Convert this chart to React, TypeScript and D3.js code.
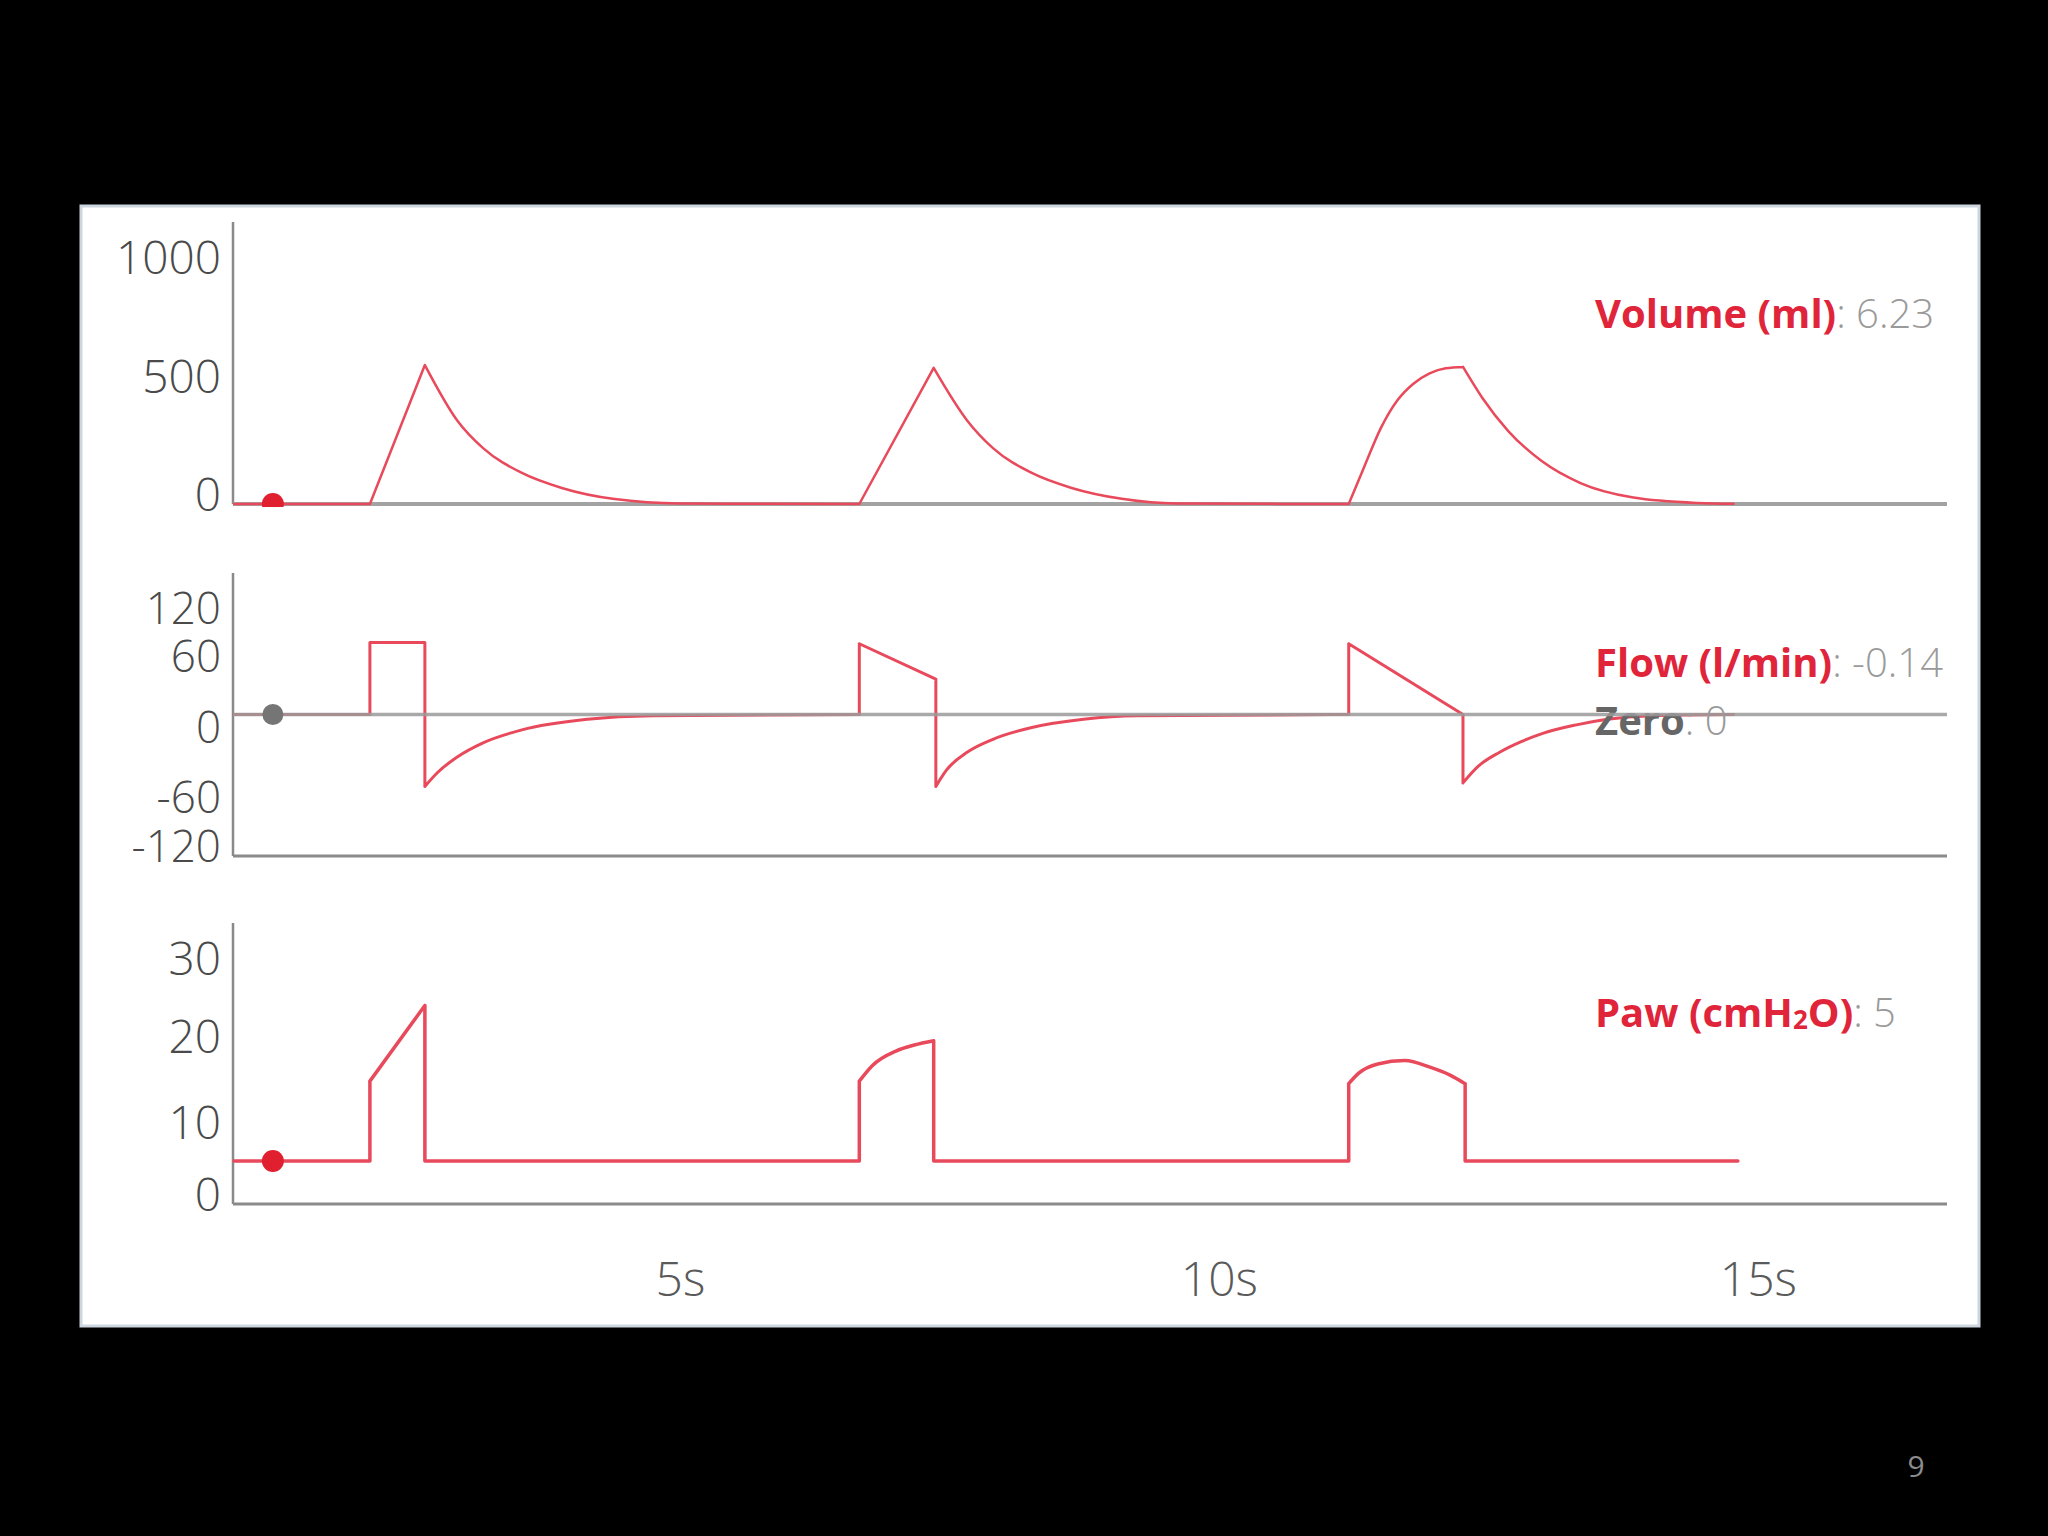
import * as d3 from 'd3';
import type { FC } from 'react';

type Pt = [number, number];

// seconds shown on the time axis
const timeDomain: [number, number] = [0.85, 16.75];
const timeTicks = [5, 10, 15];

// volume (ml), one run per piece between corners
const volumeSegments: Pt[][] = [
	[[0.86, 0], [2.12, 0]],
	[[2.12, 0], [2.63, 537]],
	[[2.63, 537], [2.93, 323], [3.17, 216], [3.53, 120], [3.9, 62], [4.39, 19], [5.0, 2], [6.66, 0]],
	[[6.66, 0], [7.35, 526]],
	[[7.35, 526], [7.66, 323], [7.9, 216], [8.26, 120], [8.63, 62], [9.11, 19], [9.6, 2], [11.2, 0]],
	[[11.2, 0], [11.35, 150], [11.5, 295], [11.65, 400], [11.8, 465], [11.95, 505], [12.1, 525], [12.26, 530]],
	[[12.26, 530], [12.44, 410], [12.68, 282], [12.99, 166], [13.35, 81], [13.84, 25], [14.44, 4], [14.77, 1]],
];

// flow (l/min)
const flowSegments: Pt[][] = [
	[[0.86, 0], [2.12, 0]],
	[[2.12, 0], [2.12, 61]],
	[[2.12, 61], [2.63, 61]],
	[[2.63, 61], [2.63, -61]],
	[[2.63, -61], [2.75, -49], [2.93, -36], [3.17, -24], [3.53, -13], [4.14, -4], [4.75, -1], [6.66, 0]],
	[[6.66, 0], [6.66, 60]],
	[[6.66, 60], [7.37, 30]],
	[[7.37, 30], [7.37, -61]],
	[[7.37, -61], [7.47, -47], [7.66, -32], [7.9, -21], [8.26, -11], [8.74, -4], [9.23, -1], [11.2, 0]],
	[[11.2, 0], [11.2, 60]],
	[[11.2, 60], [12.26, 0]],
	[[12.26, 0], [12.26, -58]],
	[[12.26, -58], [12.4, -44], [12.6, -32], [12.8, -23], [13.0, -16], [13.3, -9], [13.6, -4], [14.0, -1], [14.77, 0]],
];

// airway pressure (cmH2O)
const pawSegments: Pt[][] = [
	[[0.86, 5], [2.12, 5]],
	[[2.12, 5], [2.12, 14.3]],
	[[2.12, 14.3], [2.63, 23.1]],
	[[2.63, 23.1], [2.63, 5]],
	[[2.63, 5], [6.66, 5]],
	[[6.66, 5], [6.66, 14.3]],
	[[6.66, 14.3], [6.78, 16.1], [7.0, 17.8], [7.17, 18.5], [7.35, 19.0]],
	[[7.35, 19.0], [7.35, 5]],
	[[7.35, 5], [11.2, 5]],
	[[11.2, 5], [11.2, 14.0]],
	[[11.2, 14.0], [11.29, 15.2], [11.47, 16.3], [11.72, 16.7], [11.96, 15.9], [12.14, 15.0], [12.28, 14.0]],
	[[12.28, 14.0], [12.28, 5]],
	[[12.28, 5], [14.81, 5]],
];

const volumeTicks = [0, 500, 1000];
const flowTicks = [-120, -60, 0, 60, 120];
const pawTicks = [0, 10, 20, 30];

// cursor position and the current readings
const cursorTime = 1.22;
const readings = { volume: '6.23', flow: '-0.14', zero: '0', paw: '5' };

const W = 2048;
const H = 1536;
const FONT = "'Open Sans', sans-serif";
const RED = '#e0253a';
const TRACE = '#e84a5c';

const plotLeft = 233;
const plotRight = 1947;

const x = d3.scaleLinear().domain(timeDomain).range([plotLeft, plotRight]);

interface PanelProps {
	top: number;
	bottom: number;
	domain: [number, number];
	ticks: number[];
	labelShift: number;
	labelSize: number;
	width: number;
}

const panelScale = (p: { top: number; bottom: number; domain: [number, number] }) =>
	d3.scaleLinear().domain(p.domain).range([p.bottom, p.top]);

const tracePath = (segments: Pt[][], y: d3.ScaleLinear<number, number>) => {
	const line = d3
		.line<Pt>()
		.x((d) => x(d[0]))
		.y((d) => y(d[1]))
		.curve(d3.curveMonotoneX);
	return segments.map((s) => line(s)).join('');
};

const YLabels: FC<{ p: PanelProps }> = ({ p }) => {
	const y = panelScale(p);
	return (
		<g>
			{p.ticks.map((v) => {
				// labels are pushed inside the axis span, as in the original
				const cy = Math.max(p.top + 34, Math.min(p.bottom - 11, y(v) + p.labelShift));
				return (
					<text
						key={v}
						x={221}
						y={cy}
						textAnchor="end"
						dominantBaseline="central"
						fontFamily={FONT}
						fontWeight={300}
						fontSize={p.labelSize}
						fill="#4a4a4a"
					>
						{v}
					</text>
				);
			})}
			<line x1={plotLeft} x2={plotLeft} y1={p.top} y2={p.bottom} stroke="#8a8a8a" strokeWidth={2.5} />
		</g>
	);
};

const volumePanel: PanelProps = { top: 222, bottom: 504, domain: [0, 1090], ticks: volumeTicks, labelShift: 0, labelSize: 46, width: 2.5 };
const flowPanel: PanelProps = { top: 573, bottom: 856, domain: [-120, 120], ticks: flowTicks, labelShift: 11, labelSize: 44, width: 3 };
const pawPanel: PanelProps = { top: 923, bottom: 1204, domain: [0, 32.7], ticks: pawTicks, labelShift: 3, labelSize: 46, width: 3.5 };

const Reading: FC<{ y: number; name: React.ReactNode; value: string; color?: string }> = ({ y, name, value, color = RED }) => (
	<text x={1595} y={y} dominantBaseline="central" fontFamily={FONT} fontSize={40}>
		<tspan fill={color} fontWeight={700}>
			{name}
		</tspan>
		<tspan fill="#9a9a9a" fontWeight={300}>
			: {value}
		</tspan>
	</text>
);

const App: FC = () => {
	const yVol = panelScale(volumePanel);
	const yFlow = panelScale(flowPanel);
	const yPaw = panelScale(pawPanel);
	const cx = x(cursorTime);

	return (
		<svg width={W} height={H} style={{ position: 'absolute', left: 0, top: 0, display: 'block' }}>
			<rect x={0} y={0} width={W} height={H} fill="#000" />
			<rect x={81} y={206} width={1898} height={1120} fill="#fff" stroke="#cdd6de" strokeWidth={3} />
			<defs>
				<clipPath id="volClip">
					<rect x={plotLeft} y={volumePanel.top} width={plotRight - plotLeft} height={volumePanel.bottom - volumePanel.top + 3} />
				</clipPath>
			</defs>

			{/* volume */}
			<YLabels p={volumePanel} />
			<line x1={plotLeft} x2={plotRight} y1={yVol(0)} y2={yVol(0)} stroke="#a3a3a3" strokeWidth={4} />
			<path d={tracePath(volumeSegments, yVol)} fill="none" stroke={TRACE} strokeWidth={volumePanel.width} strokeLinecap="round" strokeLinejoin="round" />
			<circle cx={cx} cy={yVol(0)} r={11} fill="#e0202e" clipPath="url(#volClip)" />
			<Reading y={312} name="Volume (ml)" value={readings.volume} />

			{/* flow */}
			<YLabels p={flowPanel} />
			<line x1={plotLeft} x2={plotRight} y1={flowPanel.bottom} y2={flowPanel.bottom} stroke="#8a8a8a" strokeWidth={3} />
			<path d={tracePath(flowSegments, yFlow)} fill="none" stroke={TRACE} strokeWidth={flowPanel.width} strokeLinecap="round" strokeLinejoin="round" />
			<Reading y={661} name="Flow (l/min)" value={readings.flow} />
			<Reading y={719} name="Zero" value={readings.zero} color="#666" />
			<line x1={plotLeft} x2={plotRight} y1={yFlow(0)} y2={yFlow(0)} stroke="#9a9a9a" strokeWidth={3.5} strokeOpacity={0.85} />
			<circle cx={cx} cy={yFlow(0)} r={10.5} fill="#757575" />

			{/* paw */}
			<YLabels p={pawPanel} />
			<line x1={plotLeft} x2={plotRight} y1={pawPanel.bottom} y2={pawPanel.bottom} stroke="#8a8a8a" strokeWidth={3} />
			<path d={tracePath(pawSegments, yPaw)} fill="none" stroke={TRACE} strokeWidth={pawPanel.width} strokeLinecap="round" strokeLinejoin="round" />
			<circle cx={cx} cy={yPaw(5)} r={11} fill="#e0202e" />
			<Reading
				y={1011}
				name={
					<>
						Paw (cmH
						<tspan fontSize={26} dy={8}>
							2
						</tspan>
						<tspan dy={-8}>O)</tspan>
					</>
				}
				value={readings.paw}
			/>

			{/* time axis */}
			{timeTicks.map((t) => (
				<text
					key={t}
					x={x(t)}
					y={1277}
					textAnchor="middle"
					dominantBaseline="central"
					fontFamily={FONT}
					fontWeight={300}
					fontSize={48}
					fill="#5a5a5a"
				>
					{t}s
				</text>
			))}

			<text x={1916} y={1465} textAnchor="middle" dominantBaseline="central" fontFamily={FONT} fontSize={30} fill="#8c8c8c">
				9
			</text>
		</svg>
	);
};

export default App;
